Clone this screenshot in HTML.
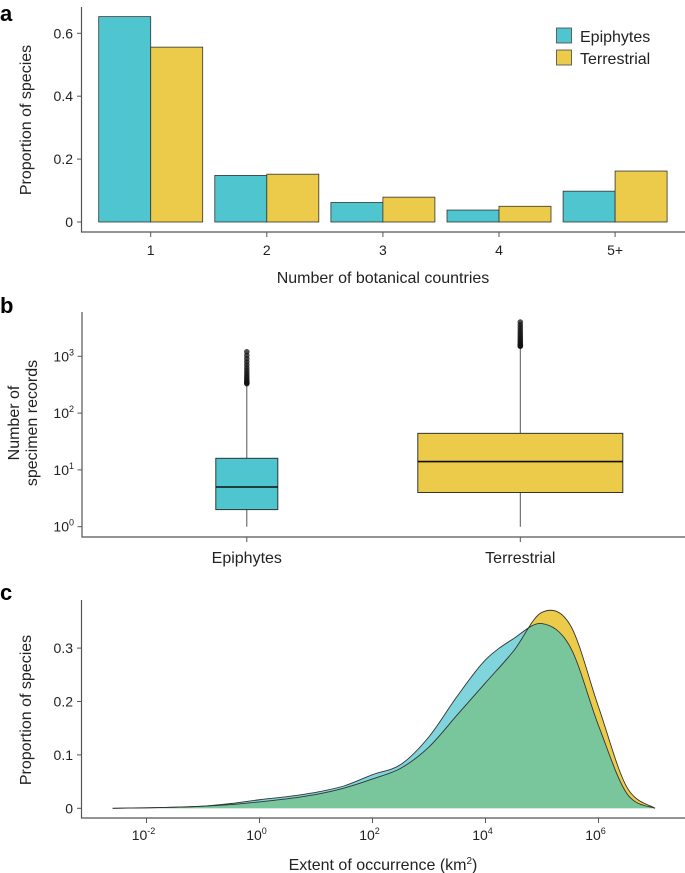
<!DOCTYPE html>
<html><head><meta charset="utf-8"><style>
body{margin:0;background:#fff;}
svg{display:block;font-family:"Liberation Sans",sans-serif;}
</style></head><body>
<svg id="c" width="685" height="873" viewBox="0 0 685 873"></svg>
<script>
// Panel a data
const catA = ['1','2','3','4','5+'];
const epiA = [0.653,0.148,0.062,0.038,0.098];
const terA = [0.556,0.152,0.079,0.050,0.162];
const ticksA = [0,0.2,0.4,0.6];
const tickLabA = ['0','0.2','0.4','0.6'];
// Panel b data (box stats)
const catB = ['Epiphytes','Terrestrial'];
const q1B = [2,4];
const medB = [5,14];
const q3B = [16,44];
const wloB = [1,1];
const whiB = [330,1500];
const outMaxB = [1200,4000];
const ticksB = [0,1,2,3];
// Panel c data
const logX = [-2.6,-2,-1.5,-1,-0.5,0,0.5,1,1.5,2,2.5,3,3.5,4,4.5,5,5.5,6,6.5,7];
const epiC = [0,0.001,0.002,0.004,0.009,0.016,0.022,0.03,0.042,0.063,0.082,0.134,0.21,0.278,0.318,0.346,0.302,0.155,0.028,0];
const terC = [0,0.001,0.002,0.004,0.007,0.012,0.018,0.026,0.038,0.055,0.075,0.115,0.175,0.235,0.295,0.367,0.343,0.19,0.04,0];
const ticksCy = [0,0.1,0.2,0.3];
const tickLabCy = ['0','0.1','0.2','0.3'];
const ticksCx = [-2,0,2,4,6];

const NS='http://www.w3.org/2000/svg';
const svg=document.getElementById('c');
function mk(tag,attrs,parent){const e=document.createElementNS(NS,tag);for(const k in attrs)e.setAttribute(k,attrs[k]);(parent||svg).appendChild(e);return e;}
const BLUE='#4fc6cf',YEL='#edcb4a',GREEN='#79c59c',AX='#555';

// ---------- Panel a ----------
const yA=v=>222-v*314.5;
const xA=i=>150.7+i*116.1;
let t=mk('text',{x:0,y:21,'font-size':22,'font-weight':'bold'});t.textContent='a';


let l=mk('path',{d:'M81.5 7V232H685',stroke:AX,'stroke-width':1.2,fill:'none'});


ticksA.forEach((v,i)=>{
  mk('line',{x1:77,x2:81.5,y1:yA(v),y2:yA(v),stroke:AX});
  const tx=mk('text',{x:73,y:yA(v)+5,'font-size':14,'text-anchor':'end',fill:'#222'});tx.textContent=tickLabA[i];
  
  
});
catA.forEach((c,i)=>{
  const x=xA(i);
  const b1=mk('rect',{x:x-52,y:yA(epiA[i]),width:52,height:yA(0)-yA(epiA[i]),fill:BLUE,stroke:'#333','stroke-width':0.8});
  
  
  const b2=mk('rect',{x:x,y:yA(terA[i]),width:52,height:yA(0)-yA(terA[i]),fill:YEL,stroke:'#333','stroke-width':0.8});
  
  
  mk('line',{x1:x,x2:x,y1:232,y2:237,stroke:AX});
  const tx=mk('text',{x:x,y:255,'font-size':14,'text-anchor':'middle',fill:'#222'});tx.textContent=c;
  
  
});
t=mk('text',{x:383,y:283,'font-size':16,'text-anchor':'middle',fill:'#222'});t.textContent='Number of botanical countries';


t=mk('text',{x:0,y:0,'font-size':16,'text-anchor':'middle',fill:'#222',transform:'translate(31,120) rotate(-90)'});t.textContent='Proportion of species';


[['Epiphytes',BLUE,28],['Terrestrial',YEL,50]].forEach(([n,c,y])=>{
  const s=mk('rect',{x:556.5,y:y,width:15,height:15,fill:c,stroke:'#444','stroke-width':0.8});
  
  
  const tx=mk('text',{x:580,y:y+14,'font-size':16,fill:'#222'});tx.textContent=n;
  
  
});

// ---------- Panel b ----------
const yB=v=>526.7-Math.log10(v)*56.8;
const xB=[246.8,520.3], wB=[62,205];
t=mk('text',{x:0,y:313,'font-size':22,'font-weight':'bold'});t.textContent='b';


l=mk('path',{d:'M82 312V537H685',stroke:AX,'stroke-width':1.2,fill:'none'});


ticksB.forEach(p=>{
  const y=yB(Math.pow(10,p));
  mk('line',{x1:77.5,x2:82,y1:y,y2:y,stroke:AX});
  const tx=mk('text',{x:74,y:y+5,'font-size':14,'text-anchor':'end',fill:'#222'});
  
  
  tx.textContent='10';
  const sp=mk('tspan',{dy:-6,'font-size':9},tx);sp.textContent=String(p);
});
catB.forEach((c,i)=>{
  const x=xB[i],w=wB[i],col=i?YEL:BLUE;
  const wl=mk('line',{x1:x,x2:x,y1:yB(wloB[i]),y2:yB(whiB[i]),stroke:'#555','stroke-width':1});
  
  
  const n=14;
  for(let k=0;k<=n;k++){
    const f=Math.pow(k/n,1.6);
    const v=Math.pow(10,Math.log10(whiB[i])+(Math.log10(outMaxB[i])-Math.log10(whiB[i]))*f);
    const o=mk('circle',{cx:x,cy:yB(v),r:2.8,fill:'#111','fill-opacity':0.75});
    
    
  }
  const b=mk('rect',{x:x-w/2,y:yB(q3B[i]),width:w,height:yB(q1B[i])-yB(q3B[i]),fill:col,stroke:'#333','stroke-width':1});
  
  
  const m=mk('line',{x1:x-w/2,x2:x+w/2,y1:yB(medB[i]),y2:yB(medB[i]),stroke:'#111','stroke-width':1.6});
  
  
  mk('line',{x1:x,x2:x,y1:537,y2:542,stroke:AX});
  const tx=mk('text',{x:x,y:563,'font-size':16,'text-anchor':'middle',fill:'#222'});tx.textContent=c;
  
  
});
t=mk('text',{x:0,y:0,'font-size':16,'text-anchor':'middle',fill:'#222',transform:'translate(19,423) rotate(-90)'});t.textContent='Number of';


t=mk('text',{x:0,y:0,'font-size':16,'text-anchor':'middle',fill:'#222',transform:'translate(37,423) rotate(-90)'});t.textContent='specimen records';



// ---------- Panel c ----------
const xC=L=>259.5+L*56.5;
const yC=v=>808.3-v*534;
t=mk('text',{x:0,y:600,'font-size':22,'font-weight':'bold'});t.textContent='c';


function spline(vals){
  const pts=logX.map((L,i)=>[xC(L),yC(vals[i])]);
  let d='M'+pts[0][0]+' '+pts[0][1];
  for(let i=0;i<pts.length-1;i++){
    const p0=pts[Math.max(0,i-1)],p1=pts[i],p2=pts[i+1],p3=pts[Math.min(pts.length-1,i+2)];
    const c1=[p1[0]+(p2[0]-p0[0])/6,p1[1]+(p2[1]-p0[1])/6];
    const c2=[p2[0]-(p3[0]-p1[0])/6,p2[1]-(p3[1]-p1[1])/6];
    d+=` C${c1[0]} ${c1[1]} ${c2[0]} ${c2[1]} ${p2[0]} ${p2[1]}`;
  }
  return d;
}
const base=`L${xC(logX[logX.length-1])} ${yC(0)} L${xC(logX[0])} ${yC(0)} Z`;
const dT=spline(terC),dE=spline(epiC);
const defs=mk('defs',{});
const cp=mk('clipPath',{id:'clipT'},defs);mk('path',{d:dT+base},cp);
let a=mk('path',{d:dT+base,fill:YEL,stroke:'none'});


a=mk('path',{d:dE+base,fill:'#7fd5db',stroke:'none'});


a=mk('path',{d:dE+base,fill:GREEN,stroke:'none','clip-path':'url(#clipT)'});


a=mk('path',{d:dT,fill:'none',stroke:'#333','stroke-width':0.9});


a=mk('path',{d:dE,fill:'none',stroke:'#333','stroke-width':0.9});


l=mk('path',{d:'M81.5 600V818H685',stroke:AX,'stroke-width':1.2,fill:'none'});


ticksCy.forEach((v,i)=>{
  mk('line',{x1:77,x2:81.5,y1:yC(v),y2:yC(v),stroke:AX});
  const tx=mk('text',{x:73,y:yC(v)+5,'font-size':14,'text-anchor':'end',fill:'#222'});tx.textContent=tickLabCy[i];
  
  
});
ticksCx.forEach(p=>{
  const x=xC(p);
  mk('line',{x1:x,x2:x,y1:818,y2:823,stroke:AX});
  const tx=mk('text',{x:x-3,y:840,'font-size':14,'text-anchor':'middle',fill:'#222'});
  
  
  tx.textContent='10';
  const sp=mk('tspan',{dy:-6,'font-size':9},tx);sp.textContent=p<0?'-'+(-p):String(p);
});
t=mk('text',{x:383,y:870,'font-size':16,'text-anchor':'middle',fill:'#222'});


t.textContent='Extent of occurrence (km';
let sp=mk('tspan',{dy:-6,'font-size':10},t);sp.textContent='2';
sp=mk('tspan',{dy:6},t);sp.textContent=')';
t=mk('text',{x:0,y:0,'font-size':16,'text-anchor':'middle',fill:'#222',transform:'translate(31,710) rotate(-90)'});t.textContent='Proportion of species';


</script>
</body></html>
